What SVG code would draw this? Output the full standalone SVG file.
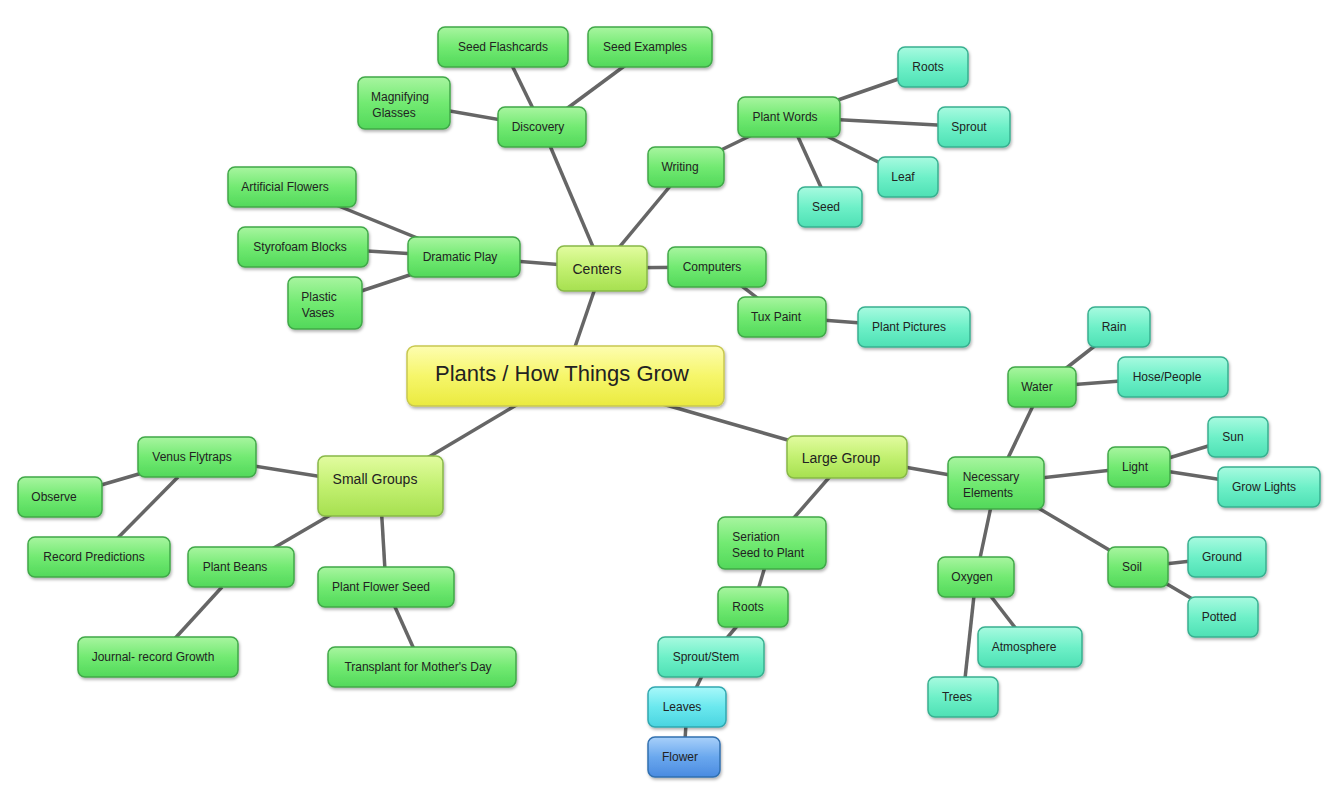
<svg xmlns="http://www.w3.org/2000/svg" width="1330" height="787" viewBox="0 0 1330 787">
<defs>
<linearGradient id="gy" x1="0" y1="0" x2="0" y2="1"><stop offset="0" stop-color="#fdfdb0"/><stop offset="0.5" stop-color="#f6f66a"/><stop offset="1" stop-color="#eaea40"/></linearGradient>
<linearGradient id="gl" x1="0" y1="0" x2="0" y2="1"><stop offset="0" stop-color="#e2fca0"/><stop offset="0.5" stop-color="#c2f070"/><stop offset="1" stop-color="#a6e050"/></linearGradient>
<linearGradient id="gg" x1="0" y1="0" x2="0" y2="1"><stop offset="0" stop-color="#a8f5a0"/><stop offset="0.5" stop-color="#72ea72"/><stop offset="1" stop-color="#52d85a"/></linearGradient>
<linearGradient id="gt" x1="0" y1="0" x2="0" y2="1"><stop offset="0" stop-color="#a8fae0"/><stop offset="0.5" stop-color="#6ef0c8"/><stop offset="1" stop-color="#4ee0b4"/></linearGradient>
<linearGradient id="gc" x1="0" y1="0" x2="0" y2="1"><stop offset="0" stop-color="#a8f8fa"/><stop offset="0.5" stop-color="#6ae8ee"/><stop offset="1" stop-color="#4ad4e0"/></linearGradient>
<linearGradient id="gb" x1="0" y1="0" x2="0" y2="1"><stop offset="0" stop-color="#a8d0fa"/><stop offset="0.5" stop-color="#6aa8ee"/><stop offset="1" stop-color="#4a8ae0"/></linearGradient>
<filter id="sh" x="-20%" y="-20%" width="140%" height="150%"><feDropShadow dx="1" dy="2" stdDeviation="1.5" flood-color="#000" flood-opacity="0.3"/></filter>
</defs>
<style>
rect{stroke-width:1.5;filter:url(#sh)}
.y{fill:url(#gy);stroke:#c8c850}.l{fill:url(#gl);stroke:#88b848}.g{fill:url(#gg);stroke:#40a848}.t{fill:url(#gt);stroke:#38b090}.c{fill:url(#gc);stroke:#30a8b0}.b{fill:url(#gb);stroke:#3070b0}
text{font-family:"Liberation Sans",Arial,sans-serif;font-size:12px;fill:#222;text-anchor:middle;dominant-baseline:central}
#conn line{stroke:#666;stroke-width:3.5}
</style>
<g id="conn">
<line x1="565" y1="376" x2="602" y2="268"/><line x1="565" y1="376" x2="380" y2="486"/><line x1="565" y1="376" x2="847" y2="457"/>
<line x1="602" y1="268" x2="542" y2="127"/><line x1="602" y1="268" x2="686" y2="167"/><line x1="602" y1="268" x2="464" y2="257"/><line x1="602" y1="268" x2="717" y2="267"/>
<line x1="542" y1="127" x2="503" y2="47"/><line x1="542" y1="127" x2="650" y2="47"/><line x1="542" y1="127" x2="404" y2="103"/>
<line x1="686" y1="167" x2="789" y2="117"/><line x1="789" y1="117" x2="933" y2="67"/><line x1="789" y1="117" x2="974" y2="127"/><line x1="789" y1="117" x2="908" y2="177"/><line x1="789" y1="117" x2="830" y2="207"/>
<line x1="464" y1="257" x2="292" y2="187"/><line x1="464" y1="257" x2="303" y2="247"/><line x1="464" y1="257" x2="325" y2="303"/>
<line x1="717" y1="267" x2="782" y2="317"/><line x1="782" y1="317" x2="914" y2="327"/>
<line x1="380" y1="486" x2="197" y2="457"/><line x1="380" y1="486" x2="241" y2="567"/><line x1="380" y1="486" x2="386" y2="587"/>
<line x1="197" y1="457" x2="60" y2="497"/><line x1="178" y1="477" x2="99" y2="557"/><line x1="222" y1="587" x2="158" y2="657"/><line x1="386" y1="587" x2="422" y2="667"/>
<line x1="847" y1="457" x2="772" y2="543"/><line x1="847" y1="457" x2="996" y2="483"/>
<line x1="772" y1="543" x2="753" y2="607"/><line x1="753" y1="607" x2="711" y2="657"/><line x1="711" y1="657" x2="687" y2="707"/><line x1="687" y1="707" x2="684" y2="757"/>
<line x1="996" y1="483" x2="1042" y2="387"/><line x1="996" y1="483" x2="1139" y2="467"/><line x1="996" y1="483" x2="1138" y2="567"/><line x1="996" y1="483" x2="976" y2="577"/>
<line x1="1042" y1="387" x2="1119" y2="327"/><line x1="1042" y1="387" x2="1173" y2="377"/><line x1="1139" y1="467" x2="1238" y2="437"/><line x1="1139" y1="467" x2="1269" y2="487"/>
<line x1="1138" y1="567" x2="1227" y2="557"/><line x1="1138" y1="567" x2="1223" y2="617"/><line x1="976" y1="577" x2="1030" y2="647"/><line x1="976" y1="577" x2="963" y2="697"/>
</g>
<g id="n-center"><rect class="y" x="407" y="346" width="317" height="60" rx="8"/><text x="562" y="373" style="font-size:22px">Plants / How Things Grow</text></g>
<g id="n-centers"><rect class="l" x="557" y="246" width="90" height="45" rx="7"/><text x="597" y="269" style="font-size:14px">Centers</text></g>
<g id="n-small"><rect class="l" x="318" y="456" width="125" height="60" rx="7"/><text x="375" y="479" style="font-size:14px">Small Groups</text></g>
<g id="n-large"><rect class="l" x="787" y="436" width="120" height="42" rx="7"/><text x="841" y="458" style="font-size:14px">Large Group</text></g>
<g id="n-discovery"><rect class="g" x="498" y="107" width="88" height="40" rx="7"/><text x="538" y="127">Discovery</text></g>
<g id="n-flash"><rect class="g" x="438" y="27" width="130" height="40" rx="7"/><text x="503" y="47">Seed Flashcards</text></g>
<g id="n-examples"><rect class="g" x="588" y="27" width="124" height="40" rx="7"/><text x="645" y="47">Seed Examples</text></g>
<g id="n-magnify"><rect class="g" x="358" y="77" width="92" height="52" rx="7"/><text x="400" y="97">Magnifying</text><text x="394" y="113">Glasses</text></g>
<g id="n-writing"><rect class="g" x="648" y="147" width="76" height="40" rx="7"/><text x="680" y="167">Writing</text></g>
<g id="n-plantwords"><rect class="g" x="738" y="97" width="102" height="40" rx="7"/><text x="785" y="117">Plant Words</text></g>
<g id="n-dramatic"><rect class="g" x="408" y="237" width="112" height="40" rx="7"/><text x="460" y="257">Dramatic Play</text></g>
<g id="n-artificial"><rect class="g" x="228" y="167" width="128" height="40" rx="7"/><text x="285" y="187">Artificial Flowers</text></g>
<g id="n-styro"><rect class="g" x="238" y="227" width="130" height="40" rx="7"/><text x="300" y="247">Styrofoam Blocks</text></g>
<g id="n-plastic"><rect class="g" x="288" y="277" width="74" height="52" rx="7"/><text x="319" y="297">Plastic</text><text x="318" y="313">Vases</text></g>
<g id="n-computers"><rect class="g" x="668" y="247" width="98" height="40" rx="7"/><text x="712" y="267">Computers</text></g>
<g id="n-tux"><rect class="g" x="738" y="297" width="88" height="40" rx="7"/><text x="776" y="317">Tux Paint</text></g>
<g id="n-venus"><rect class="g" x="138" y="437" width="118" height="40" rx="7"/><text x="192" y="457">Venus Flytraps</text></g>
<g id="n-observe"><rect class="g" x="18" y="477" width="84" height="40" rx="7"/><text x="54" y="497">Observe</text></g>
<g id="n-record"><rect class="g" x="28" y="537" width="142" height="40" rx="7"/><text x="94" y="557">Record Predictions</text></g>
<g id="n-beans"><rect class="g" x="188" y="547" width="106" height="40" rx="7"/><text x="235" y="567">Plant Beans</text></g>
<g id="n-journal"><rect class="g" x="78" y="637" width="160" height="40" rx="7"/><text x="153" y="657">Journal- record Growth</text></g>
<g id="n-flowerseed"><rect class="g" x="318" y="567" width="136" height="40" rx="7"/><text x="381" y="587">Plant Flower Seed</text></g>
<g id="n-transplant"><rect class="g" x="328" y="647" width="188" height="40" rx="7"/><text x="418" y="667">Transplant  for Mother's Day</text></g>
<g id="n-seriation"><rect class="g" x="718" y="517" width="108" height="52" rx="7"/><text x="756" y="537">Seriation</text><text x="768" y="553">Seed to Plant</text></g>
<g id="n-roots2"><rect class="g" x="718" y="587" width="70" height="40" rx="7"/><text x="748" y="607">Roots</text></g>
<g id="n-stem"><rect class="t" x="658" y="637" width="106" height="40" rx="7"/><text x="706" y="657">Sprout/Stem</text></g>
<g id="n-leaves"><rect class="c" x="648" y="687" width="78" height="40" rx="7"/><text x="682" y="707">Leaves</text></g>
<g id="n-flower"><rect class="b" x="648" y="737" width="72" height="40" rx="7"/><text x="680" y="757">Flower</text></g>
<g id="n-necessary"><rect class="g" x="948" y="457" width="96" height="52" rx="7"/><text x="991" y="477">Necessary</text><text x="988" y="493">Elements</text></g>
<g id="n-water"><rect class="g" x="1008" y="367" width="68" height="40" rx="7"/><text x="1037" y="387">Water</text></g>
<g id="n-light"><rect class="g" x="1108" y="447" width="62" height="40" rx="7"/><text x="1135" y="467">Light</text></g>
<g id="n-soil"><rect class="g" x="1108" y="547" width="60" height="40" rx="7"/><text x="1132" y="567">Soil</text></g>
<g id="n-oxygen"><rect class="g" x="938" y="557" width="76" height="40" rx="7"/><text x="972" y="577">Oxygen</text></g>
<g id="n-roots"><rect class="t" x="898" y="47" width="70" height="40" rx="7"/><text x="928" y="67">Roots</text></g>
<g id="n-sprout"><rect class="t" x="938" y="107" width="72" height="40" rx="7"/><text x="969" y="127">Sprout</text></g>
<g id="n-leaf"><rect class="t" x="878" y="157" width="60" height="40" rx="7"/><text x="903" y="177">Leaf</text></g>
<g id="n-seed"><rect class="t" x="798" y="187" width="64" height="40" rx="7"/><text x="826" y="207">Seed</text></g>
<g id="n-pictures"><rect class="t" x="858" y="307" width="112" height="40" rx="7"/><text x="909" y="327">Plant Pictures</text></g>
<g id="n-rain"><rect class="t" x="1088" y="307" width="62" height="40" rx="7"/><text x="1114" y="327">Rain</text></g>
<g id="n-hose"><rect class="t" x="1118" y="357" width="110" height="40" rx="7"/><text x="1167" y="377">Hose/People</text></g>
<g id="n-sun"><rect class="t" x="1208" y="417" width="60" height="40" rx="7"/><text x="1233" y="437">Sun</text></g>
<g id="n-grow"><rect class="t" x="1218" y="467" width="102" height="40" rx="7"/><text x="1264" y="487">Grow Lights</text></g>
<g id="n-ground"><rect class="t" x="1188" y="537" width="78" height="40" rx="7"/><text x="1222" y="557">Ground</text></g>
<g id="n-potted"><rect class="t" x="1188" y="597" width="70" height="40" rx="7"/><text x="1219" y="617">Potted</text></g>
<g id="n-atmos"><rect class="t" x="978" y="627" width="104" height="40" rx="7"/><text x="1024" y="647">Atmosphere</text></g>
<g id="n-trees"><rect class="t" x="928" y="677" width="70" height="40" rx="7"/><text x="957" y="697">Trees</text></g>
</svg>
